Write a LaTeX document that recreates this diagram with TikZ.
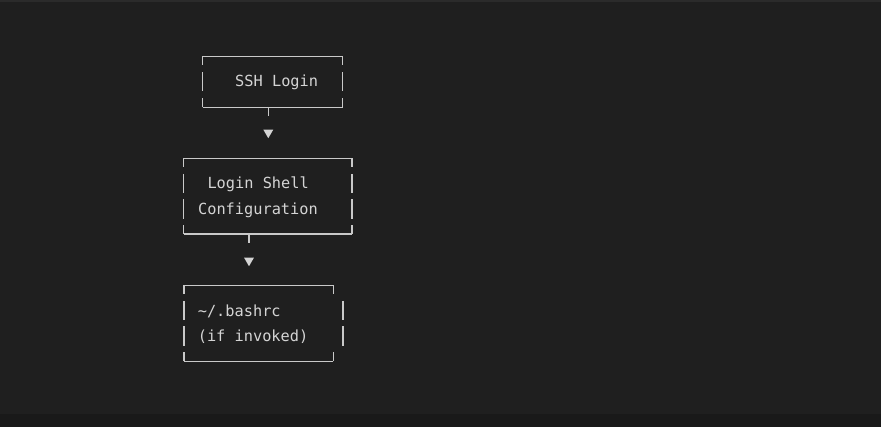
\documentclass[tikz,border=0pt]{standalone}
\usepackage{fontspec}
\setmonofont{DejaVu Sans Mono}
\usetikzlibrary{shapes.geometric}
\definecolor{bgdark}{HTML}{1F1F1F}
\definecolor{bgstrip}{HTML}{191919}
\definecolor{bgline}{HTML}{2B2B2B}
\definecolor{ink}{HTML}{D4D4D4}
\tikzset{
  rule/.style={draw=ink!95!black, line width=1.2pt},
  frame/.style={rectangle, inner sep=0pt, outer sep=0pt},
  txt/.style={anchor=base west, inner sep=0pt, text=ink,
    font=\ttfamily\fontsize{15.3}{25.3}\selectfont},
  tip/.style={regular polygon, regular polygon sides=3, shape border rotate=180,
    fill=ink, inner sep=0pt, minimum size=11.5pt}
}
% ascii style frame: [right bar shift]{node}{rows}
\newcommand{\asciiframe}[3][0pt]{%
  \draw[rule] (#2.north west) -- (#2.north east);
  \draw[rule] (#2.south west) -- (#2.south east);
  \draw[rule] (#2.north west) -- ++(0,-9);
  \draw[rule] (#2.north east) -- ++(0,-9);
  \draw[rule] (#2.south west) -- ++(0,9);
  \draw[rule] (#2.south east) -- ++(0,9);
  \foreach \r in {1,...,#3} {
    \draw[rule] ([yshift=-\r*25.3pt+9.7pt]#2.north west) -- ++(0,-19.4);
    \draw[rule] ([xshift=#1,yshift=-\r*25.3pt+9.7pt]#2.north east) -- ++(0,-19.4);
  }%
}
\begin{document}
\begin{tikzpicture}[x=1pt,y=1pt]
\useasboundingbox (0,0) rectangle (881,-427);
\fill[bgdark] (0,0) rectangle (881,-427);
\fill[bgstrip] (0,-414) rectangle (881,-427);
\fill[bgline] (0,0) rectangle (881,-2);

% boxes
\node[frame, minimum width=140.2pt, minimum height=50.8pt] (ssh) at (272.6,-81.9) {};
\node[frame, minimum width=168.3pt, minimum height=75.7pt] (login) at (267.85,-196.15) {};
\node[frame, minimum width=149.3pt, minimum height=76pt] (bashrc) at (258.65,-323.3) {};
\asciiframe{ssh}{1}
\asciiframe{login}{2}
\asciiframe[9.7pt]{bashrc}{2}

% texts
\node[txt] (ssh-t) at (235,-86.7) {SSH Login};
\node[txt] (login-t1) at (207.3,-189) {Login Shell};
\node[txt] (login-t2) at (197.9,-215) {Configuration};
\node[txt] (bashrc-t1) at (197.6,-316.3) {\textasciitilde/.bashrc};
\node[txt] (bashrc-t2) at (197.6,-341.3) {(if invoked)};

% arrows
\node[tip] (arr1) at (268.3,-132.5) {};
\node[tip] (arr2) at (249,-260.5) {};
\draw[rule] (ssh.south -| arr1) -- ++(0,-9);
\draw[rule] (login.south -| arr2) -- ++(0,-9);
\end{tikzpicture}
\end{document}
